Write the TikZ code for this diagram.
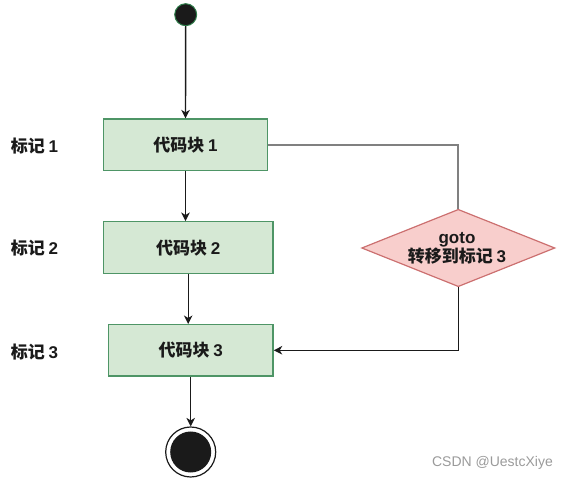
\documentclass[tikz,border=0pt]{standalone}
\usepackage{fontspec}
\setmainfont{Liberation Sans}
\newfontfamily\cjk{Noto Sans CJK SC}
\newcommand\lat[1]{{\rmfamily\bfseries #1}}
\usetikzlibrary{shapes.geometric,arrows.meta}
\definecolor{boxfill}{HTML}{D5E8D4}
\definecolor{boxline}{HTML}{4E9566}
\definecolor{diafill}{HTML}{F8CECC}
\definecolor{dialine}{HTML}{CC7070}
\definecolor{startline}{HTML}{2E7D4A}
\definecolor{ink}{HTML}{1A1A1A}
\definecolor{grayline}{HTML}{808080}
\definecolor{wm}{HTML}{9A9A9A}
\tikzset{
  blk/.style={draw=boxline, fill=boxfill, line width=1.3pt, rectangle, inner sep=0pt,
    font=\cjk\bfseries\fontsize{17}{19}\selectfont, text=ink},
  lbl/.style={font=\cjk\bfseries\fontsize{17}{19}\selectfont, text=ink, inner sep=0pt},
  conn/.style={draw=ink, line width=1.4pt, -{Stealth[length=8.5pt,width=8.5pt,inset=2.5pt]}},
}
\begin{document}
\begin{tikzpicture}[x=1pt,y=-1pt]
\useasboundingbox (0,0) rectangle (563,481);
% start
\node[circle, fill=ink, draw=startline, line width=1pt, minimum size=22pt, inner sep=0pt] (start) at (185.7,14.7) {};
% blocks
\node[blk, minimum width=164.4pt, minimum height=51.7pt] (b1) at (185.5,144.9) {代码块 \lat{1}};
\node[blk, minimum width=169.7pt, minimum height=52pt] (b2) at (188.2,247.7) {代码块 \lat{2}};
\node[blk, minimum width=164.7pt, minimum height=51.3pt] (b3) at (190.7,350.3) {代码块 \lat{3}};
% labels
\node[lbl] (l1) at (34.5,146) {标记 \lat{1}};
\node[lbl] (l2) at (34.5,248) {标记 \lat{2}};
\node[lbl] (l3) at (34.5,352) {标记 \lat{3}};
% end
\node[circle, draw=ink, line width=1.2pt, fill=white, minimum size=50pt, inner sep=0pt] (endo) at (190.7,452) {};
\node[circle, fill=ink, minimum size=41pt, inner sep=0pt] (endi) at (endo.center) {};
% diamond
\node[diamond, draw=dialine, fill=diafill, line width=1.2pt, minimum width=193.3pt, minimum height=77.4pt, inner sep=0pt] (dia) at (458.3,248) {};
\node[font=\cjk\bfseries\fontsize{17}{19}\selectfont, text=ink, align=center, inner sep=0pt] (diat) at (457,248.5) {\lat{goto}\\[0pt]转移到标记 \lat{3}};
% connectors
\draw[conn] (start.south) -- (b1.north);
\draw[conn] (b1.south) -- (b1.south |- b2.north);
\draw[conn] (b2.south) -- (b2.south |- b3.north);
\draw[conn] (b3.south) -- (endo.north);
\draw[draw=grayline, line width=2pt] (b1.east) -- (dia.north |- b1.east) -- (dia.north);
\draw[conn] (dia.south) -- (dia.south |- b3.east) -- (b3.east);
% watermark
\node[font=\fontsize{14}{16}\selectfont, text=wm, inner sep=0pt] (wmk) at (492.5,463) {CSDN @UestcXiye};
\end{tikzpicture}
\end{document}
